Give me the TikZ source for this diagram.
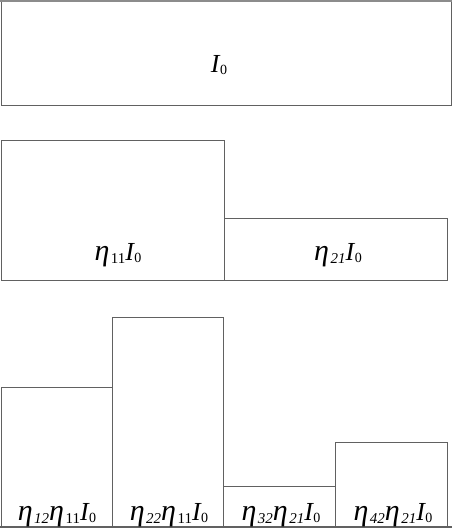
\documentclass[tikz,border=0pt]{standalone}
\usepackage{fontspec}
\setmainfont{Liberation Serif}
\newcommand{\su}[1]{\raisebox{-3pt}{\fontsize{15}{15}\selectfont #1}}
\newcommand{\sui}[1]{\raisebox{-3pt}{\fontsize{15}{15}\selectfont\itshape #1}}
\newcommand{\myeta}{{\fontsize{30}{30}\selectfont\itshape η}\kern1.5pt}
\newcommand{\Iz}{{\itshape I}\kern0.5pt\raisebox{-2.5pt}{\fontsize{14}{14}\selectfont 0}}
\tikzset{
  bar/.style={draw=black!62, line width=0.9pt, fill=white},
  lab/.style={font=\fontsize{26}{30}\selectfont, inner sep=0pt, anchor=base}
}
\begin{document}
\begin{tikzpicture}[x=1pt,y=-1pt]
\useasboundingbox (0,0) rectangle (452,528);
% top row
\draw[bar] (1,1) rectangle (451,105);
\draw[draw=black!45, line width=2pt] (0,1) -- (452,1);
\node[lab] (t0) at (219,72) {\Iz};
% middle row
\draw[bar] (1,140) rectangle (224,280);
\draw[bar] (224,218) rectangle (447,280);
\node[lab] (m1) at (118,260) {\myeta\su{11}\Iz};
\node[lab] (m2) at (338,260) {\myeta\sui{21}\Iz};
% bottom row
\draw[bar] (1,387) rectangle (112,527);
\draw[bar] (112,317) rectangle (223,527);
\draw[bar] (223,486) rectangle (335,527);
\draw[bar] (335,442) rectangle (447,527);
\draw[draw=black!62, line width=2pt] (0,527) -- (452,527);
\node[lab] (b1) at (57,520) {\myeta\sui{12}\myeta\su{11}\Iz};
\node[lab] (b2) at (169,520) {\myeta\sui{22}\myeta\su{11}\Iz};
\node[lab] (b3) at (281,520) {\myeta\sui{32}\myeta\sui{21}\Iz};
\node[lab] (b4) at (393,520) {\myeta\sui{42}\myeta\sui{21}\Iz};
\end{tikzpicture}
\end{document}
